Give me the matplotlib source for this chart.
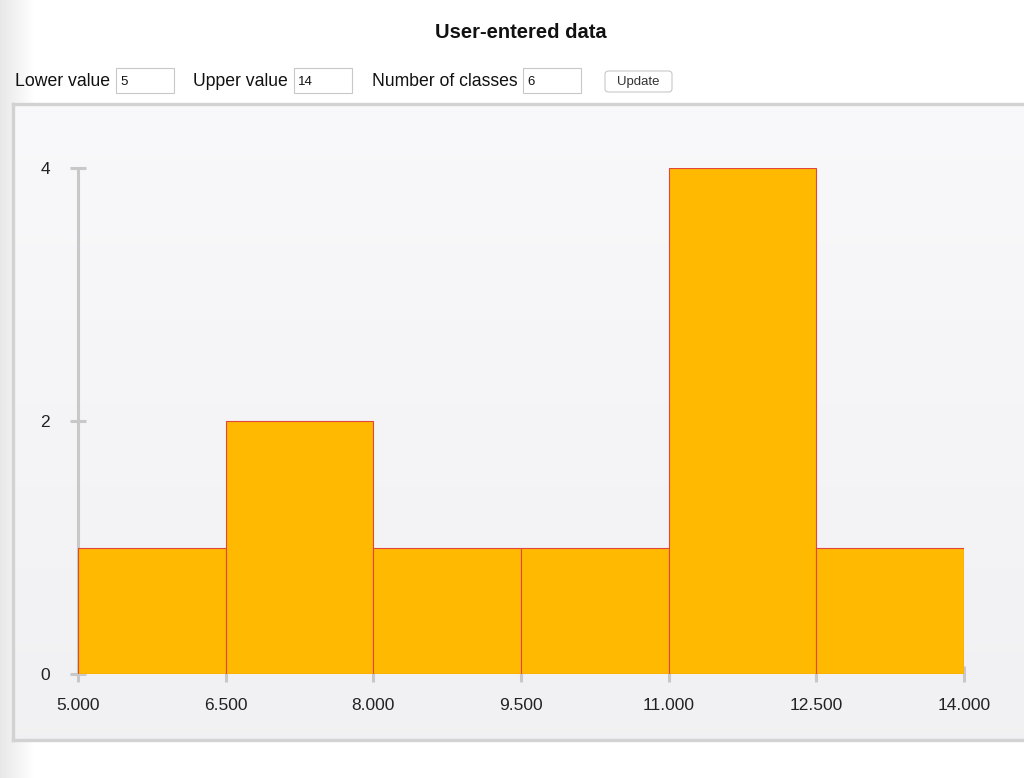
import numpy as np
import matplotlib.pyplot as plt
from matplotlib.patches import Rectangle, FancyBboxPatch

plt.rcParams['font.family'] = ['Liberation Sans', 'DejaVu Sans']

# data
lower_value = 5
upper_value = 14
n_classes = 6
bin_edges = [5.0, 6.5, 8.0, 9.5, 11.0, 12.5, 14.0]
counts = [1, 2, 1, 1, 4, 1]
y_ticks = [0, 2, 4]

W, H = 1024, 778
fig = plt.figure(figsize=(W / 100, H / 100), dpi=100)
fig.patch.set_facecolor('white')


def fx(px):
    return px / W


def fy(py):
    return 1 - py / H


# left page shadow
sh = fig.add_axes([0, 0, fx(34), 1], zorder=-5)
grad = np.linspace(0.91, 1.0, 64).reshape(1, -1)
sh.imshow(np.dstack([grad, grad, grad]), aspect='auto', extent=[0, 1, 0, 1])
sh.axis('off')

# panel background with gradient
panel = fig.add_axes([fx(13), fy(740), fx(1030 - 13), fy(104) - fy(740)], zorder=-2)
g = np.linspace(0.975, 0.945, 100).reshape(-1, 1)
panel.imshow(np.dstack([g, g, g * 1.008]).clip(0, 1), aspect='auto', extent=[0, 1, 0, 1])
panel.set_xticks([])
panel.set_yticks([])
for s in panel.spines.values():
    s.set_color('#d2d2d2')
    s.set_linewidth(2.4)

# title and controls
fig.text(fx(521), fy(33), 'User-entered data', ha='center', va='center',
         fontsize=14.5, fontweight='bold', color='#111111')

controls = [('Lower value', 15, 116, str(lower_value)),
            ('Upper value', 193, 294, str(upper_value)),
            ('Number of classes', 372, 523, str(n_classes))]
for label, lx, bx, val in controls:
    fig.text(fx(lx), fy(81), label, ha='left', va='center', fontsize=12.7, color='#111111')
    fig.patches.append(Rectangle((fx(bx), fy(93)), fx(58), fy(68) - fy(93),
                                 transform=fig.transFigure, facecolor='white',
                                 edgecolor='#c8c8c8', linewidth=0.8))
    fig.text(fx(bx + 4), fy(82), val, ha='left', va='center', fontsize=9.5, color='#111111')

fig.patches.append(FancyBboxPatch((fx(605), fy(92)), fx(67), fy(71) - fy(92),
                                  boxstyle='round,pad=0,rounding_size=0.004',
                                  transform=fig.transFigure, facecolor='white',
                                  edgecolor='#c8c8c8', linewidth=0.8))
fig.text(fx(638.5), fy(82), 'Update', ha='center', va='center', fontsize=9.5, color='#333333')

# histogram
ax = fig.add_axes([fx(78), fy(674), fx(964 - 78), fy(168) - fy(674)])
ax.patch.set_alpha(0)
ax.set_axisbelow(True)
widths = np.diff(bin_edges)
ax.bar(bin_edges[:-1], counts, width=widths, align='edge',
       color='#FFB900', edgecolor='#e2453c', linewidth=0.8, zorder=3)
ax.set_xlim(bin_edges[0], bin_edges[-1])
ax.set_ylim(0, max(counts))
ax.set_xticks(bin_edges)
ax.set_xticklabels(['%.3f' % e for e in bin_edges])
ax.set_yticks(y_ticks)
for s in ['top', 'right', 'bottom']:
    ax.spines[s].set_visible(False)
ax.spines['left'].set_color('#c8c8c8')
ax.spines['left'].set_linewidth(2.2)
ax.tick_params(axis='both', direction='inout', length=12, width=2.2, color='#c8c8c8',
               labelsize=12.5, labelcolor='#222222')
ax.tick_params(axis='x', pad=11)
ax.tick_params(axis='y', pad=14)

fig.savefig('out.png', dpi=100)
